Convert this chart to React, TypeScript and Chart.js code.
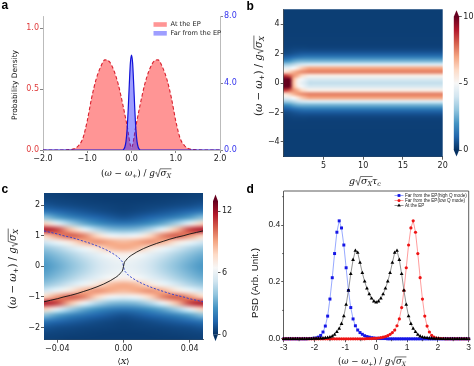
import React, { useEffect, useRef } from 'react';
import { Chart, registerables } from 'chart.js';

Chart.register(...registerables);

// ================= Panel a =================
const aLegendLabels = ['At the EP', 'Far from the EP'];
const aRedX = [-2, -1.9, -1.8, -1.7, -1.6, -1.5, -1.4, -1.3, -1.2, -1.1, -1, -0.9, -0.8, -0.7, -0.6, -0.5, -0.4, -0.3, -0.2, -0.1, 0, 0.1, 0.2, 0.3, 0.4, 0.5, 0.6, 0.7, 0.8, 0.9, 1, 1.1, 1.2, 1.3, 1.4, 1.5, 1.6, 1.7, 1.8, 1.9, 2];
const aRedY = [0, 0, 0, 0, 0, 0.001, 0.003, 0.01, 0.035, 0.095, 0.24, 0.43, 0.58, 0.68, 0.74, 0.725, 0.655, 0.54, 0.38, 0.2, 0.02, 0.2, 0.38, 0.54, 0.655, 0.725, 0.74, 0.68, 0.58, 0.43, 0.24, 0.095, 0.035, 0.01, 0.003, 0.001, 0, 0, 0, 0, 0];
const aBlueX = [-2, -0.2, -0.175, -0.15, -0.125, -0.1, -0.075, -0.05, -0.025, 0, 0.025, 0.05, 0.075, 0.1, 0.125, 0.15, 0.175, 0.2, 2];
const aBlueY = [0, 0, 0.05, 0.18, 0.5, 1.2, 2.4, 3.9, 5.2, 5.67, 5.2, 3.9, 2.4, 1.2, 0.5, 0.18, 0.05, 0, 0];
const aXTicks = [-2, -1, 0, 1, 2];
const aLeftTicks = [0, 0.5, 1];
const aRightTicks = [0, 4, 8];

// ================= Panel b =================
const bRowAbsY = [0, 0.25, 0.5, 0.75, 1, 1.25, 1.5, 1.75, 2, 2.25, 2.5, 2.75, 3, 3.25, 3.5, 3.75, 4, 4.25, 4.5, 4.75, 5];
const bBandStart = [0, 0.5, 1, 1.5, 2, 2.5, 3];
const bBandEnd = [0.5, 1, 1.5, 2, 2.5, 3, 20];
const bProfile0 = [13, 12, 8.5, 5.8, 4.6, 3.2, 1.8, 0.9, 0.5, 0.35, 0.3, 0.28, 0.27, 0.26, 0.25, 0.25, 0.25, 0.25, 0.25, 0.25, 0.25];
const bProfile1 = [10.5, 9.8, 8.0, 6.2, 4.7, 3.3, 2.0, 1.0, 0.55, 0.38, 0.3, 0.28, 0.27, 0.26, 0.25, 0.25, 0.25, 0.25, 0.25, 0.25, 0.25];
const bProfile2 = [6.6, 6.8, 7.3, 6.7, 5.0, 3.6, 2.3, 1.2, 0.65, 0.42, 0.32, 0.28, 0.27, 0.26, 0.25, 0.25, 0.25, 0.25, 0.25, 0.25, 0.25];
const bProfile3 = [5.2, 5.5, 6.8, 7.1, 5.6, 3.9, 2.5, 1.35, 0.72, 0.45, 0.32, 0.28, 0.27, 0.26, 0.25, 0.25, 0.25, 0.25, 0.25, 0.25, 0.25];
const bProfile4 = [4.6, 4.9, 6.1, 7.3, 6.3, 4.1, 2.6, 1.45, 0.78, 0.46, 0.32, 0.28, 0.27, 0.26, 0.25, 0.25, 0.25, 0.25, 0.25, 0.25, 0.25];
const bProfile5 = [4.2, 4.5, 5.7, 7.4, 6.7, 4.2, 2.6, 1.5, 0.8, 0.46, 0.31, 0.28, 0.27, 0.26, 0.25, 0.25, 0.25, 0.25, 0.25, 0.25, 0.25];
const bProfile6 = [3.8, 4.2, 5.4, 7.5, 7.0, 4.3, 2.6, 1.5, 0.8, 0.45, 0.3, 0.28, 0.27, 0.26, 0.25, 0.25, 0.25, 0.25, 0.25, 0.25, 0.25];
const bXTicks = [5, 10, 15, 20];
const bYTicks = [-4, -2, 0, 2, 4];
const bCbTicks = [0, 5, 10];
const bVmax = 10;

// ================= Panel c =================
const cColAbsX = [0, 0.008, 0.016, 0.024, 0.032, 0.04, 0.048];
const cRowAbsY = [0, 0.2, 0.4, 0.6, 0.8, 1.0, 1.2, 1.4, 1.6, 1.8, 2.0, 2.2, 2.4];
const cCol0 = [6.0, 6.2, 7.0, 9.0, 8.6, 6.0, 3.5, 1.8, 0.8, 0.45, 0.35, 0.3, 0.3];
const cCol1 = [5.8, 6.0, 6.6, 8.6, 9.0, 6.3, 3.7, 2.0, 1.0, 0.55, 0.4, 0.3, 0.3];
const cCol2 = [5.2, 5.4, 5.9, 7.3, 9.5, 7.8, 4.6, 2.5, 1.3, 0.7, 0.45, 0.32, 0.3];
const cCol3 = [4.5, 4.7, 5.2, 6.2, 8.8, 9.8, 6.2, 3.2, 1.7, 0.9, 0.5, 0.35, 0.3];
const cCol4 = [3.8, 4.0, 4.5, 5.4, 7.3, 10.5, 8.4, 4.3, 2.2, 1.1, 0.6, 0.4, 0.3];
const cCol5 = [3.2, 3.4, 3.8, 4.6, 6.2, 9.4, 11.0, 6.0, 2.9, 1.4, 0.7, 0.45, 0.35];
const cCol6 = [2.7, 2.9, 3.3, 4.0, 5.3, 7.8, 11.8, 8.0, 3.8, 1.8, 0.9, 0.5, 0.4];
const cCurveX = [-0.048, -0.044, -0.04, -0.036, -0.032, -0.028, -0.024, -0.02, -0.016, -0.012, -0.008, -0.005, -0.003, -0.0015, -0.0005, 0, 0.0005, 0.0015, 0.003, 0.005, 0.008, 0.012, 0.016, 0.02, 0.024, 0.028, 0.032, 0.036, 0.04, 0.044, 0.048];
const cBlackY = [-1.16, -1.11, -1.06, -1.0, -0.95, -0.89, -0.82, -0.75, -0.67, -0.58, -0.47, -0.37, -0.29, -0.2, -0.12, 0, 0.12, 0.2, 0.29, 0.37, 0.47, 0.58, 0.67, 0.75, 0.82, 0.89, 0.95, 1.0, 1.06, 1.11, 1.16];
const cBlueY = [1.16, 1.11, 1.06, 1.0, 0.95, 0.89, 0.82, 0.75, 0.67, 0.58, 0.47, 0.37, 0.29, 0.2, 0.12, 0, -0.12, -0.2, -0.29, -0.37, -0.47, -0.58, -0.67, -0.75, -0.82, -0.89, -0.95, -1.0, -1.06, -1.11, -1.16];
const cXTicks = [-0.04, 0, 0.04];
const cYTicks = [-2, -1, 0, 1, 2];
const cCbTicks = [0, 6, 12];
const cVmax = 13;

// ================= Panel d =================
const dLabels = ['Far from the EP(high Q mode)', 'Far from the EP(low Q mode)', 'At the EP'];
const dX = [-3, -2.925, -2.85, -2.775, -2.7, -2.625, -2.55, -2.475, -2.4, -2.325, -2.25, -2.175, -2.1, -2.025, -1.95, -1.875, -1.8, -1.725, -1.65, -1.575, -1.5, -1.425, -1.35, -1.275, -1.2, -1.125, -1.05, -0.975, -0.9, -0.825, -0.75, -0.675, -0.6, -0.525, -0.45, -0.375, -0.3, -0.225, -0.15, -0.075, 0, 0.075, 0.15, 0.225, 0.3, 0.375, 0.45, 0.525, 0.6, 0.675, 0.75, 0.825, 0.9, 0.975, 1.05, 1.125, 1.2, 1.275, 1.35, 1.425, 1.5, 1.575, 1.65, 1.725, 1.8, 1.875, 1.95, 2.025, 2.1, 2.175, 2.25, 2.325, 2.4, 2.475, 2.55, 2.625, 2.7, 2.775, 2.85, 2.925, 3];
const dBlue = [0, 0, 0, 0, 0, 0, 0, 0, 0, 0, 0, 0.001, 0.001, 0.002, 0.003, 0.006, 0.012, 0.024, 0.045, 0.08, 0.14, 0.215, 0.3, 0.375, 0.415, 0.39, 0.33, 0.25, 0.17, 0.11, 0.07, 0.046, 0.031, 0.022, 0.016, 0.011, 0.008, 0.006, 0.004, 0.003, 0.002, 0.002, 0.001, 0.001, 0.001, 0, 0, 0, 0, 0, 0, 0, 0, 0, 0, 0, 0, 0, 0, 0, 0, 0, 0, 0, 0, 0, 0, 0, 0, 0, 0, 0, 0, 0, 0, 0, 0, 0, 0, 0, 0];
const dRed = [0, 0, 0, 0, 0, 0, 0, 0, 0, 0, 0, 0, 0, 0, 0, 0, 0, 0, 0, 0, 0, 0, 0, 0, 0, 0, 0, 0, 0, 0, 0, 0, 0, 0, 0, 0, 0.001, 0.001, 0.001, 0.002, 0.002, 0.003, 0.004, 0.006, 0.008, 0.011, 0.016, 0.022, 0.031, 0.046, 0.07, 0.11, 0.17, 0.25, 0.33, 0.39, 0.415, 0.375, 0.3, 0.215, 0.14, 0.08, 0.045, 0.024, 0.012, 0.006, 0.003, 0.002, 0.001, 0.001, 0, 0, 0, 0, 0, 0, 0, 0, 0, 0, 0];
const dBlack = [0, 0, 0, 0, 0, 0, 0, 0, 0, 0, 0, 0, 0, 0.001, 0.001, 0.001, 0.002, 0.002, 0.003, 0.004, 0.006, 0.009, 0.015, 0.024, 0.036, 0.053, 0.08, 0.12, 0.17, 0.228, 0.278, 0.31, 0.303, 0.268, 0.232, 0.202, 0.177, 0.157, 0.142, 0.132, 0.128, 0.132, 0.142, 0.157, 0.177, 0.202, 0.232, 0.268, 0.303, 0.31, 0.278, 0.228, 0.17, 0.12, 0.08, 0.053, 0.036, 0.024, 0.015, 0.009, 0.006, 0.004, 0.003, 0.002, 0.002, 0.001, 0.001, 0.001, 0, 0, 0, 0, 0, 0, 0, 0, 0, 0, 0, 0, 0];
const dXTicks = [-3, -2, -1, 0, 1, 2, 3];
const dXMinor = [-2.5, -1.5, -0.5, 0.5, 1.5, 2.5];
const dYTicks = [0, 0.2, 0.4];
const dYMinor = [0.1, 0.3, 0.5];

// ================= helpers =================
const RDBU_R = ['#053061', '#2166ac', '#4393c3', '#92c5de', '#d1e5f0', '#f7f7f7', '#fddbc7', '#f4a582', '#d6604d', '#b2182b', '#67001f'];
const RDBU_RGB = RDBU_R.map((h) => [parseInt(h.slice(1, 3), 16), parseInt(h.slice(3, 5), 16), parseInt(h.slice(5, 7), 16)]);
function cmap(t: number): number[] {
  const tt = Math.max(0, Math.min(1, t));
  const p = tt * 10;
  const i = Math.min(9, Math.floor(p));
  const f = p - i;
  const a = RDBU_RGB[i];
  const b = RDBU_RGB[i + 1];
  return [0, 1, 2].map((k) => Math.round(a[k] + (b[k] - a[k]) * f));
}
const SANS = '"DejaVu Sans", sans-serif';
const ARIAL = '"Liberation Sans", Arial, sans-serif';
const SERIF = '"DejaVu Serif", "Liberation Serif", serif';
const TICK = 8;
const minus = (v: number, d: number) => (v < 0 ? '\u2212' : '') + Math.abs(v).toFixed(d);
const xy = (xs: number[], ys: number[]) => xs.map((x, i) => ({ x, y: ys[i] }));
const fixTicks = (arr: number[]) => (s: any) => {
  s.ticks = arr.map((v) => ({ value: v }));
};

type Seg = { t?: string; it?: boolean; sub?: boolean; ov?: boolean; rad?: boolean };
const OMEGA: Seg[] = [
  { t: '(' }, { t: '\u03c9', it: true }, { t: ' \u2212 ' }, { t: '\u03c9', it: true }, { t: '+', sub: true }, { t: ')' },
  { t: ' / ' }, { t: 'g', it: true }, { rad: true }, { t: '\u03c3', it: true, ov: true }, { t: 'X', it: true, sub: true, ov: true },
];
const GTAU: Seg[] = [
  { t: 'g', it: true }, { rad: true }, { t: '\u03c3', it: true, ov: true }, { t: 'X', it: true, sub: true, ov: true },
  { t: '\u03c4', it: true }, { t: 'c', it: true, sub: true },
];
const MEANX: Seg[] = [{ t: '\u27e8' }, { t: 'X', it: true }, { t: '\u27e9' }];

function segFont(s: Seg, size: number) {
  const sz = s.sub ? size * 0.68 : size;
  return `${s.it ? 'italic ' : ''}${sz.toFixed(2)}px ${SERIF}`;
}
function layoutMath(ctx: any, segs: Seg[], size: number) {
  let x = 0;
  const items = segs.map((s) => {
    let w = 0;
    if (s.rad) w = size * 0.62;
    else {
      ctx.font = segFont(s, size);
      w = ctx.measureText(s.t).width;
    }
    const it = { s, x, w };
    x += w;
    return it;
  });
  return { items, width: x };
}
function drawMath(ctx: any, segs: Seg[], cx: number, cy: number, width: number, rot = 0, color = '#111') {
  ctx.save();
  const base = layoutMath(ctx, segs, 10);
  const size = (10 * width) / base.width;
  const { items, width: W } = layoutMath(ctx, segs, size);
  ctx.translate(cx, cy);
  ctx.rotate(rot);
  ctx.fillStyle = color;
  ctx.strokeStyle = color;
  ctx.textAlign = 'left';
  ctx.textBaseline = 'alphabetic';
  const x0 = -W / 2;
  const by = size * 0.33;
  let ovS: number | null = null;
  let ovE: number | null = null;
  ctx.lineWidth = Math.max(0.6, size * 0.06);
  for (const it of items) {
    const x = x0 + it.x;
    if (it.s.rad) {
      ctx.beginPath();
      ctx.moveTo(x + it.w * 0.05, by - size * 0.3);
      ctx.lineTo(x + it.w * 0.25, by - size * 0.4);
      ctx.lineTo(x + it.w * 0.5, by + size * 0.12);
      ctx.lineTo(x + it.w * 0.92, by - size * 0.8);
      ctx.stroke();
      ovS = x + it.w * 0.92;
      continue;
    }
    ctx.font = segFont(it.s, size);
    ctx.fillText(it.s.t, x, by + (it.s.sub ? size * 0.2 : 0));
    if (it.s.ov) ovE = x + it.w;
  }
  if (ovS !== null && ovE !== null) {
    ctx.beginPath();
    ctx.moveTo(ovS, by - size * 0.8);
    ctx.lineTo(ovE + size * 0.05, by - size * 0.8);
    ctx.stroke();
  }
  ctx.restore();
}
function drawFit(ctx: any, text: string, cx: number, cy: number, width: number, family: string, rot = 0, color = '#111') {
  ctx.save();
  ctx.font = `10px ${family}`;
  const w10 = ctx.measureText(text).width;
  const size = (10 * width) / w10;
  ctx.font = `${size.toFixed(2)}px ${family}`;
  ctx.translate(cx, cy);
  ctx.rotate(rot);
  ctx.textAlign = 'center';
  ctx.textBaseline = 'middle';
  ctx.fillStyle = color;
  ctx.fillText(text, 0, 0);
  ctx.restore();
}
function drawLetter(ctx: any, t: string, x: number, y: number) {
  ctx.save();
  ctx.font = `bold 12px ${ARIAL}`;
  ctx.fillStyle = '#000';
  ctx.textAlign = 'left';
  ctx.textBaseline = 'alphabetic';
  ctx.fillText(t, x, y);
  ctx.restore();
}
function decor(id: string, fn: (ctx: any, chart: any) => void) {
  return {
    id,
    afterDraw(chart: any) {
      fn(chart.ctx, chart);
    },
  };
}

function heatPlugin(xs: number[], ys: number[], vals: number[][], vmax: number) {
  let img: HTMLCanvasElement | null = null;
  const build = () => {
    const nc = xs.length;
    const nr = ys.length;
    const c = document.createElement('canvas');
    c.width = nc + 2;
    c.height = nr + 2;
    const g = c.getContext('2d')!;
    const id = g.createImageData(nc + 2, nr + 2);
    for (let py = 0; py < nr + 2; py++) {
      for (let px = 0; px < nc + 2; px++) {
        const r = Math.min(nr - 1, Math.max(0, nr - py));
        const k = Math.min(nc - 1, Math.max(0, px - 1));
        const col = cmap(vals[r][k] / vmax);
        const o = (py * (nc + 2) + px) * 4;
        id.data[o] = col[0];
        id.data[o + 1] = col[1];
        id.data[o + 2] = col[2];
        id.data[o + 3] = 255;
      }
    }
    g.putImageData(id, 0, 0);
    return c;
  };
  return {
    id: 'heat',
    beforeDatasetsDraw(chart: any) {
      if (!img) img = build();
      const xS = chart.scales.x;
      const yS = chart.scales.y;
      const dx = xs[1] - xs[0];
      const dy = ys[1] - ys[0];
      const L = xS.getPixelForValue(xs[0] - 1.5 * dx);
      const R = xS.getPixelForValue(xs[xs.length - 1] + 1.5 * dx);
      const T = yS.getPixelForValue(ys[ys.length - 1] + 1.5 * dy);
      const B = yS.getPixelForValue(ys[0] - 1.5 * dy);
      const ctx = chart.ctx;
      const a = chart.chartArea;
      ctx.save();
      ctx.beginPath();
      ctx.rect(a.left, a.top, a.right - a.left, a.bottom - a.top);
      ctx.clip();
      ctx.imageSmoothingEnabled = true;
      ctx.imageSmoothingQuality = 'high';
      ctx.drawImage(img, L, T, R - L, B - T);
      ctx.restore();
    },
  };
}

// build b grid
function buildB() {
  const profiles = [bProfile0, bProfile1, bProfile2, bProfile3, bProfile4, bProfile5, bProfile6];
  const xs: number[] = [];
  for (let k = 0; k < 40; k++) xs.push(0.25 + 0.5 * k);
  const ys: number[] = [];
  const n = bRowAbsY.length;
  for (let r = n - 1; r > 0; r--) ys.push(-bRowAbsY[r]);
  for (let r = 0; r < n; r++) ys.push(bRowAbsY[r]);
  const vals = ys.map((_, ri) => {
    const idx = Math.abs(ri - (n - 1));
    return xs.map((x) => {
      let b = bBandStart.findIndex((s, j) => x >= s && x < bBandEnd[j]);
      if (b < 0) b = profiles.length - 1;
      return profiles[b][idx];
    });
  });
  return { xs, ys, vals };
}
function buildC() {
  const cols = [cCol0, cCol1, cCol2, cCol3, cCol4, cCol5, cCol6];
  const nc = cColAbsX.length;
  const nr = cRowAbsY.length;
  const xs: number[] = [];
  for (let k = nc - 1; k > 0; k--) xs.push(-cColAbsX[k]);
  for (let k = 0; k < nc; k++) xs.push(cColAbsX[k]);
  const ys: number[] = [];
  for (let r = nr - 1; r > 0; r--) ys.push(-cRowAbsY[r]);
  for (let r = 0; r < nr; r++) ys.push(cRowAbsY[r]);
  const vals = ys.map((_, ri) => xs.map((__, ci) => cols[Math.abs(ci - (nc - 1))][Math.abs(ri - (nr - 1))]));
  return { xs, ys, vals };
}

const baseOpts = {
  animation: false,
  responsive: false,
  devicePixelRatio: 1,
  events: [],
  plugins: { legend: { display: false }, tooltip: { enabled: false } },
};

const tickGrid = (color = '#444') => ({ display: true, drawOnChartArea: false, drawTicks: true, tickLength: 3, color, lineWidth: 0.8 });

function makeA() {
  return {
    type: 'line',
    data: {
      datasets: [
        {
          label: aLegendLabels[0], data: xy(aRedX, aRedY), yAxisID: 'y', order: 1,
          borderColor: '#d8202e', borderDash: [3.5, 2.2], borderWidth: 1.1,
          backgroundColor: 'rgba(255,20,20,0.45)', fill: 'origin', pointRadius: 0, cubicInterpolationMode: 'monotone',
        },
        {
          label: aLegendLabels[1], data: xy(aBlueX, aBlueY), yAxisID: 'y2', order: 0,
          borderColor: '#1212d8', borderWidth: 1.2,
          backgroundColor: 'rgba(40,40,255,0.45)', fill: 'origin', pointRadius: 0, cubicInterpolationMode: 'monotone',
        },
      ],
    },
    options: {
      ...baseOpts,
      layout: { padding: { top: 16, left: 0, right: 0, bottom: 0 } },
      scales: {
        x: {
          type: 'linear', min: -2, max: 2, afterBuildTicks: fixTicks(aXTicks), afterFit: (s: any) => { s.height = 33; },
          ticks: { callback: (v: number) => minus(v, 1), color: '#222', font: { family: SANS, size: TICK }, padding: 1, maxRotation: 0, autoSkip: false },
          grid: tickGrid('#666'), border: { display: true, color: '#aaa', width: 0.8 },
        },
        y: {
          position: 'left', min: 0, max: 1.1, afterBuildTicks: fixTicks(aLeftTicks), afterFit: (s: any) => { s.width = 43; },
          ticks: { callback: (v: number) => minus(v, 1), color: '#e03a3a', font: { family: SANS, size: TICK }, padding: 1, autoSkip: false },
          grid: tickGrid('#666'), border: { display: true, color: '#aaa', width: 0.8 },
        },
        y2: {
          position: 'right', min: 0, max: 8, afterBuildTicks: fixTicks(aRightTicks), afterFit: (s: any) => { s.width = 19; },
          ticks: { callback: (v: number) => minus(v, 1), color: '#3434ee', font: { family: SANS, size: TICK }, padding: 1, autoSkip: false },
          grid: tickGrid('#666'), border: { display: true, color: '#aaa', width: 0.8 },
        },
      },
    },
    plugins: [
      decor('decA', (ctx: any, chart: any) => {
        drawLetter(ctx, 'a', 1.5, 9);
        drawFit(ctx, 'Probability Density', 15, 85, 70, SANS, -Math.PI / 2, '#111');
        drawMath(ctx, OMEGA, 136, 173, 70);
        const rows = [24.5, 33.3];
        chart.data.datasets.forEach((d: any, i: number) => {
          ctx.save();
          ctx.fillStyle = d.backgroundColor;
          ctx.fillRect(153.5, rows[i] - 2.3, 13.3, 4.6);
          ctx.fillStyle = '#222';
          ctx.font = `6.6px ${SANS}`;
          ctx.textBaseline = 'middle';
          ctx.textAlign = 'left';
          ctx.fillText(d.label, 170.5, rows[i]);
          ctx.restore();
        });
      }),
    ],
  };
}

function heatScales(xmin: number, xmax: number, ymin: number, ymax: number, xt: number[], yt: number[], xfmt: (v: number) => string, yfmt: (v: number) => string, yw: number, xh: number) {
  return {
    x: {
      type: 'linear', min: xmin, max: xmax, afterBuildTicks: fixTicks(xt), afterFit: (s: any) => { s.height = xh; },
      ticks: { callback: xfmt, color: '#222', font: { family: SANS, size: TICK }, padding: 1, maxRotation: 0, autoSkip: false },
      grid: tickGrid('#333'), border: { display: true, color: '#222', width: 0.8 },
    },
    y: {
      type: 'linear', min: ymin, max: ymax, afterBuildTicks: fixTicks(yt), afterFit: (s: any) => { s.width = yw; },
      ticks: { callback: yfmt, color: '#222', font: { family: SANS, size: TICK }, padding: 1, autoSkip: false },
      grid: tickGrid('#333'), border: { display: true, color: '#222', width: 0.8 },
    },
  };
}

function makeB() {
  const g = buildB();
  return {
    type: 'scatter',
    data: { datasets: [] },
    options: {
      ...baseOpts,
      layout: { padding: { top: 9.3, right: 31.3, left: 0, bottom: 0 } },
      scales: heatScales(0, 20, -5, 5, bXTicks, bYTicks, (v) => minus(v, 0), (v) => minus(v, 0), 46.7, 33.3),
    },
    plugins: [
      heatPlugin(g.xs, g.ys, g.vals, bVmax),
      decor('decB', (ctx: any) => {
        drawLetter(ctx, 'b', 9.5, 10);
        drawMath(ctx, GTAU, 128, 181, 32);
        drawMath(ctx, OMEGA, 21.7, 76, 80, -Math.PI / 2);
      }),
    ],
  };
}

function makeC() {
  const g = buildC();
  return {
    type: 'line',
    data: {
      datasets: [
        { data: xy(cCurveX, cBlackY), borderColor: '#111', borderWidth: 0.9, pointRadius: 0, cubicInterpolationMode: 'monotone', fill: false },
        { data: xy(cCurveX, cBlueY), borderColor: '#2b3fd0', borderWidth: 0.9, borderDash: [2.2, 1.6], pointRadius: 0, cubicInterpolationMode: 'monotone', fill: false },
      ],
    },
    options: {
      ...baseOpts,
      layout: { padding: { top: 10, right: 34, left: 0, bottom: 0 } },
      scales: heatScales(-0.048, 0.048, -2.4, 2.4, cXTicks, cYTicks, (v) => minus(v, 2), (v) => minus(v, 0), 44, 26.3),
    },
    plugins: [
      heatPlugin(g.xs, g.ys, g.vals, cVmax),
      decor('decC', (ctx: any) => {
        drawLetter(ctx, 'c', 1.5, 9.5);
        drawMath(ctx, MEANX, 123.5, 178.5, 12);
        drawMath(ctx, OMEGA, 13, 86, 80, -Math.PI / 2);
      }),
    ],
  };
}

function colorbar(vmax: number, ticks: number[], pad: any, axisW: number) {
  return {
    type: 'bar',
    data: {
      labels: [''],
      datasets: [
        {
          data: [[0, vmax]],
          borderWidth: 0,
          barPercentage: 1,
          categoryPercentage: 1,
          backgroundColor: (c: any) => {
            const ch = c.chart;
            const ys = ch.scales && ch.scales.y;
            if (!ys || !ch.chartArea) return RDBU_R[5];
            const gr = ch.ctx.createLinearGradient(0, ys.getPixelForValue(0), 0, ys.getPixelForValue(vmax));
            RDBU_R.forEach((col, i) => gr.addColorStop(i / 10, col));
            return gr;
          },
        },
      ],
    },
    options: {
      ...baseOpts,
      layout: { padding: pad },
      scales: {
        x: { display: false },
        y: {
          position: 'right', min: 0, max: vmax, afterBuildTicks: fixTicks(ticks), afterFit: (s: any) => { s.width = axisW; },
          ticks: { callback: (v: number) => String(v), color: '#222', font: { family: SANS, size: TICK }, padding: 1.5, autoSkip: false },
          grid: { display: true, drawOnChartArea: false, drawTicks: true, tickLength: 2.5, color: '#333', lineWidth: 0.8 },
          border: { display: false },
        },
      },
    },
    plugins: [
      {
        id: 'tri',
        afterDatasetsDraw(chart: any) {
          const ys = chart.scales.y;
          const { left, right } = chart.chartArea;
          const top = ys.getPixelForValue(vmax);
          const bot = ys.getPixelForValue(0);
          const ctx = chart.ctx;
          const c1 = cmap(1);
          const c0 = cmap(0);
          ctx.save();
          ctx.fillStyle = `rgb(${c1.join(',')})`;
          ctx.beginPath();
          ctx.moveTo(left, top + 0.3);
          ctx.lineTo(right, top + 0.3);
          ctx.lineTo((left + right) / 2, top - 6.5);
          ctx.closePath();
          ctx.fill();
          ctx.fillStyle = `rgb(${c0.join(',')})`;
          ctx.beginPath();
          ctx.moveTo(left, bot - 0.3);
          ctx.lineTo(right, bot - 0.3);
          ctx.lineTo((left + right) / 2, bot + 6.5);
          ctx.closePath();
          ctx.fill();
          ctx.restore();
        },
      },
    ],
  };
}
const makeBcb = () => colorbar(bVmax, bCbTicks, { left: 4.7, top: 16.7, bottom: 33, right: 0 }, 14.7);
const makeCcb = () => colorbar(cVmax, cCbTicks, { left: 5, top: 18, bottom: 31.3, right: 0 }, 19);

function drawMarker(ctx: any, style: string, x: number, y: number, r: number, color: string) {
  ctx.fillStyle = color;
  ctx.beginPath();
  if (style === 'rect') {
    const s = r * Math.SQRT1_2;
    ctx.rect(x - s, y - s, 2 * s, 2 * s);
  } else if (style === 'triangle') {
    ctx.moveTo(x, y - r);
    ctx.lineTo(x + r * 0.866, y + r * 0.5);
    ctx.lineTo(x - r * 0.866, y + r * 0.5);
    ctx.closePath();
  } else {
    ctx.arc(x, y, r, 0, Math.PI * 2);
  }
  ctx.fill();
}

function makeD() {
  const common = { borderWidth: 0.7, pointBorderWidth: 0, fill: false, clip: false, tension: 0 };
  return {
    type: 'line',
    data: {
      datasets: [
        { ...common, label: dLabels[0], data: xy(dX, dBlue), borderColor: 'rgba(80,110,255,0.85)', pointStyle: 'rect', pointRadius: 2.1, pointBackgroundColor: '#1616e6', order: 2 },
        { ...common, label: dLabels[1], data: xy(dX, dRed), borderColor: 'rgba(255,90,90,0.85)', pointStyle: 'circle', pointRadius: 1.6, pointBackgroundColor: '#ee1414', order: 1 },
        { ...common, label: dLabels[2], data: xy(dX, dBlack), borderColor: '#666', pointStyle: 'triangle', pointRadius: 2.2, pointBackgroundColor: '#000', order: 0 },
      ],
    },
    options: {
      ...baseOpts,
      layout: { padding: { top: 8, right: 5.3, left: 0, bottom: 0 } },
      scales: {
        x: {
          type: 'linear', min: -3, max: 3, afterBuildTicks: fixTicks(dXTicks), afterFit: (s: any) => { s.height = 26.3; },
          ticks: { callback: (v: number) => String(v), color: '#222', font: { family: ARIAL, size: 8.5 }, padding: 0, maxRotation: 0, autoSkip: false },
          grid: { display: true, drawOnChartArea: false, drawTicks: true, tickLength: 2.5, color: '#333', lineWidth: 0.8 },
          border: { display: true, color: '#333', width: 0.8 },
        },
        y: {
          type: 'linear', min: -0.003, max: 0.52, afterBuildTicks: fixTicks(dYTicks), afterFit: (s: any) => { s.width = 46.7; },
          ticks: { callback: (v: number) => v.toFixed(1), color: '#222', font: { family: ARIAL, size: 8.5 }, padding: 1, autoSkip: false },
          grid: { display: true, drawOnChartArea: false, drawTicks: true, tickLength: 2.5, color: '#333', lineWidth: 0.8 },
          border: { display: true, color: '#333', width: 0.8 },
        },
      },
    },
    plugins: [
      decor('decD', (ctx: any, chart: any) => {
        const a = chart.chartArea;
        const xS = chart.scales.x;
        const yS = chart.scales.y;
        ctx.save();
        ctx.strokeStyle = '#333';
        ctx.lineWidth = 0.8;
        ctx.beginPath();
        ctx.moveTo(a.left, a.top);
        ctx.lineTo(a.right, a.top);
        ctx.lineTo(a.right, a.bottom);
        for (const v of dXMinor) {
          const px = xS.getPixelForValue(v);
          ctx.moveTo(px, a.bottom);
          ctx.lineTo(px, a.bottom + 1.5);
        }
        for (const v of dYMinor) {
          const py = yS.getPixelForValue(v);
          ctx.moveTo(a.left, py);
          ctx.lineTo(a.left - 1.5, py);
        }
        ctx.stroke();
        ctx.restore();
        drawLetter(ctx, 'd', 9.5, 10);
        drawMath(ctx, OMEGA, 135, 178, 68);
        drawFit(ctx, 'PSD (Arb. Unit.)', 18, 100, 70, ARIAL, -Math.PI / 2, '#111');
        const rows = [12.5, 17.5, 22.5];
        const styles = ['rect', 'circle', 'triangle'];
        const rads = [2.0, 1.5, 2.1];
        chart.data.datasets.forEach((d: any, i: number) => {
          ctx.save();
          ctx.strokeStyle = d.borderColor;
          ctx.lineWidth = 0.7;
          ctx.beginPath();
          ctx.moveTo(157.5, rows[i]);
          ctx.lineTo(166.5, rows[i]);
          ctx.stroke();
          drawMarker(ctx, styles[i], 162, rows[i], rads[i], d.pointBackgroundColor);
          ctx.fillStyle = '#222';
          ctx.font = `4.6px ${ARIAL}`;
          ctx.textBaseline = 'middle';
          ctx.textAlign = 'left';
          ctx.fillText(d.label, 168, rows[i]);
          ctx.restore();
        });
      }),
    ],
  };
}

function ChartBox({ x, y, w, h, make }: { x: number; y: number; w: number; h: number; make: () => any }) {
  const ref = useRef<HTMLCanvasElement>(null);
  useEffect(() => {
    const chart = new Chart(ref.current as HTMLCanvasElement, make());
    return () => chart.destroy();
  }, []);
  return (
    <div style={{ position: 'absolute', left: x, top: y, width: w, height: h }}>
      <canvas ref={ref} width={w} height={h} style={{ width: w, height: h, display: 'block' }} />
    </div>
  );
}

export default function App() {
  return (
    <div style={{ position: 'fixed', left: 0, top: 0, width: 474, height: 366, background: '#fff', overflow: 'hidden' }}>
      <ChartBox x={0} y={0} w={239} h={183} make={makeA} />
      <ChartBox x={237} y={0} w={237} h={190} make={makeB} />
      <ChartBox x={449} y={0} w={25} h={183} make={makeBcb} />
      <ChartBox x={0} y={183} w={237} h={183} make={makeC} />
      <ChartBox x={208} y={183} w={29} h={183} make={makeCcb} />
      <ChartBox x={237} y={183} w={237} h={183} make={makeD} />
    </div>
  );
}
